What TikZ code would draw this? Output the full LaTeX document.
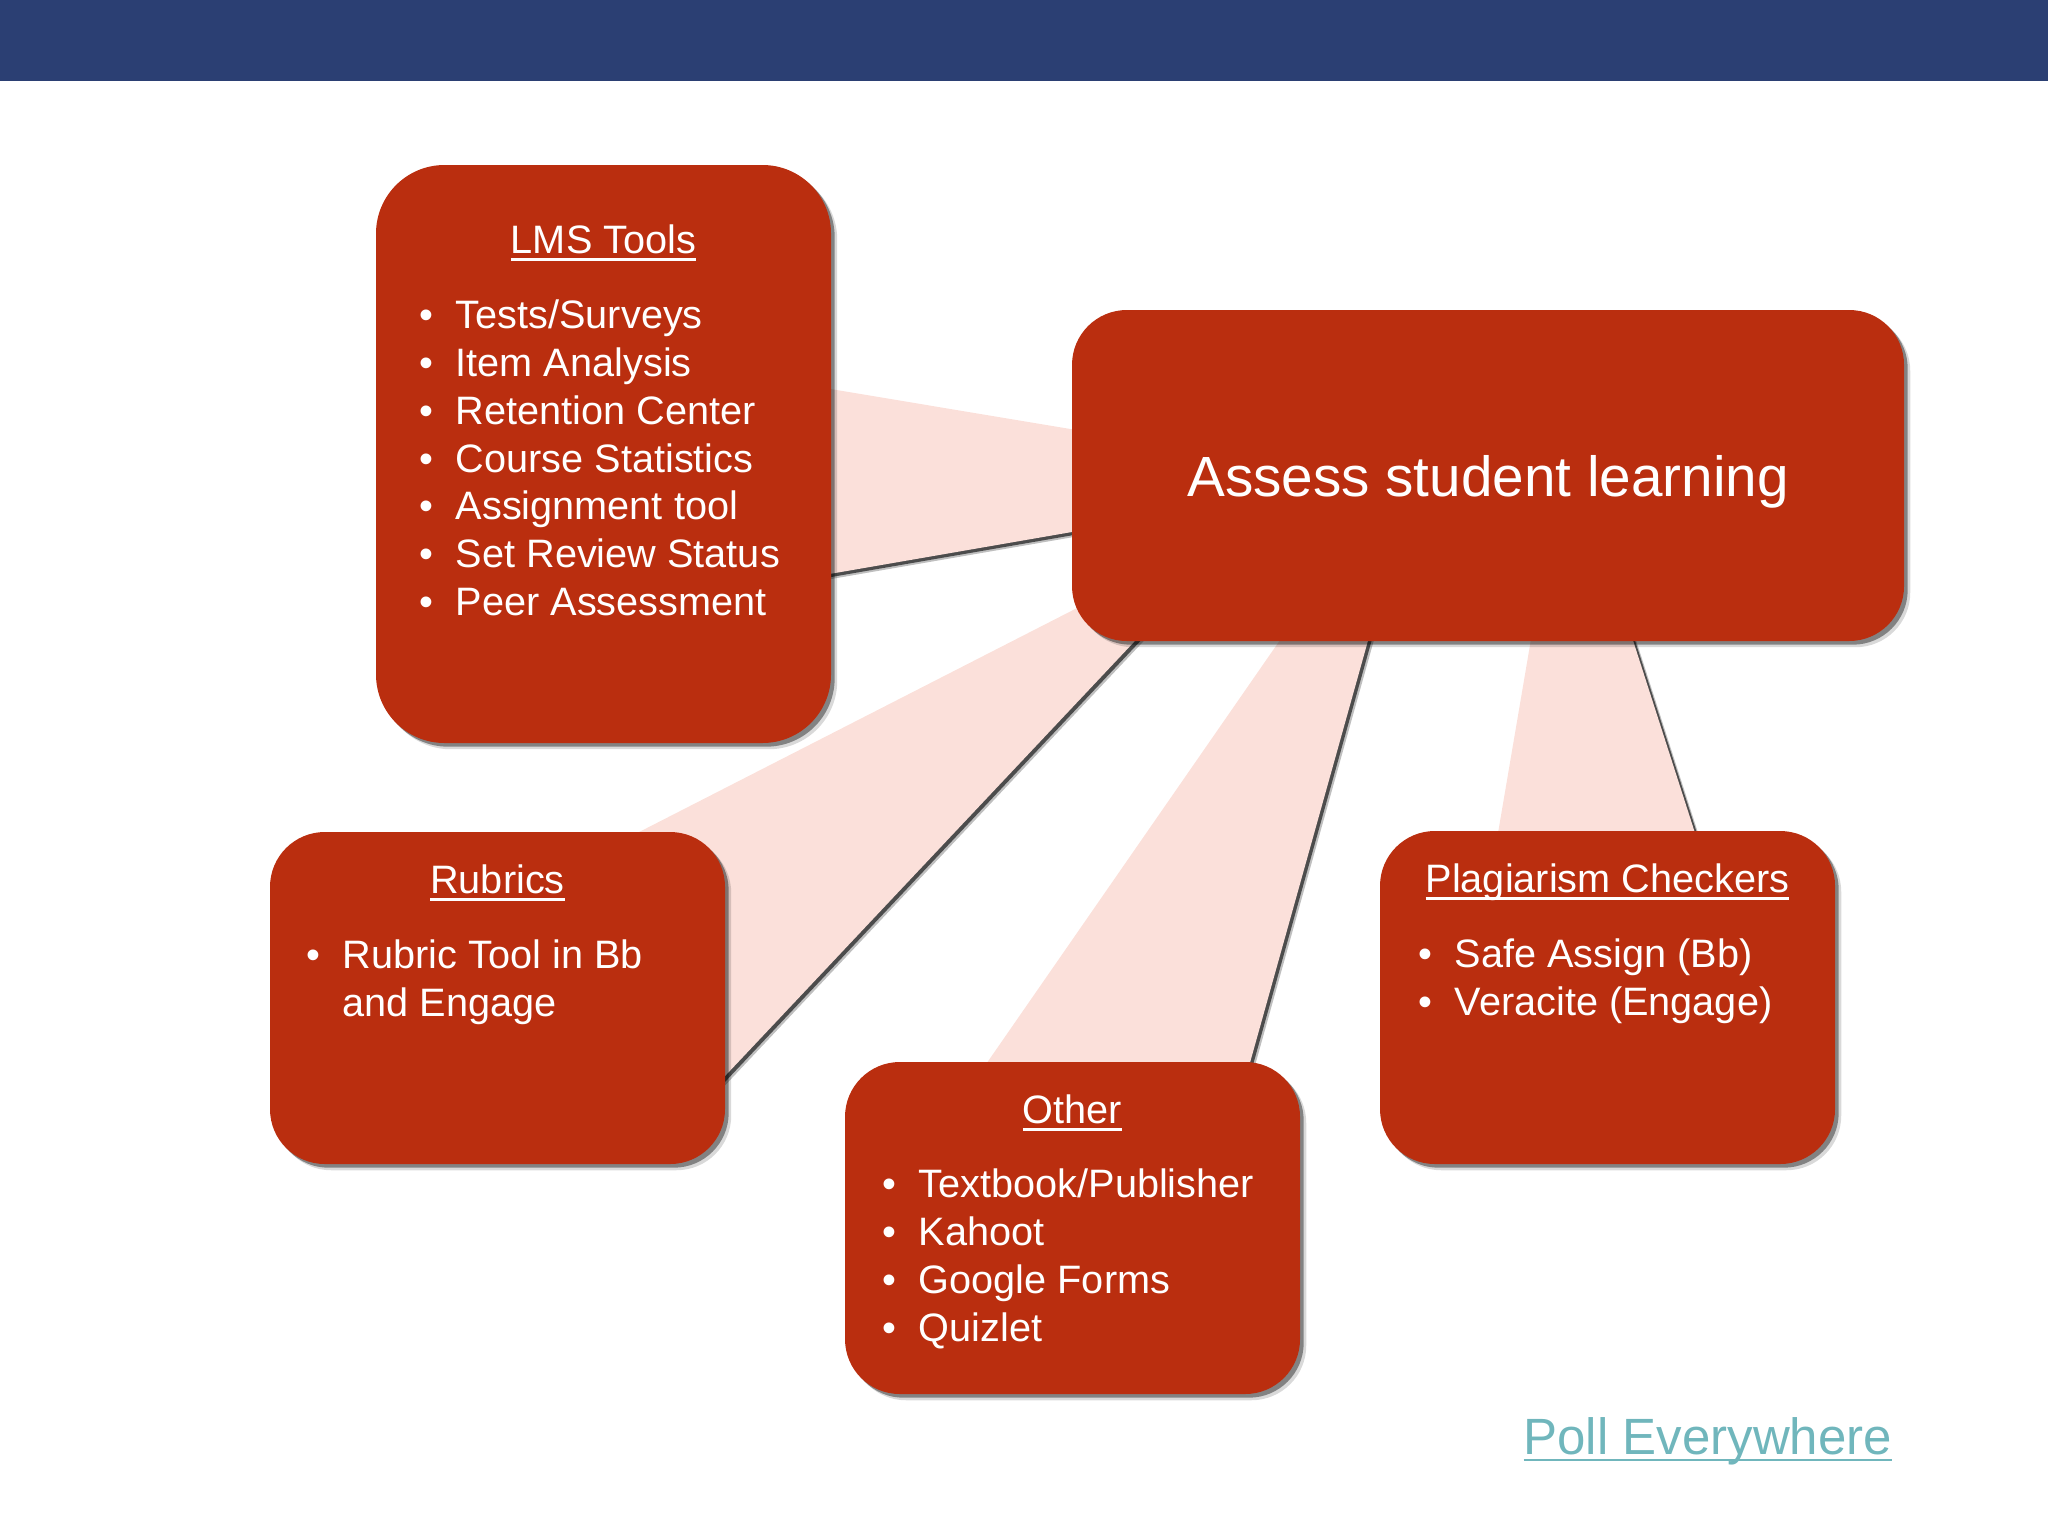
\documentclass[tikz,border=0pt]{standalone}
\usepackage{fontspec}
\setmainfont{Liberation Sans}
\usetikzlibrary{calc,fit,shadows}

\definecolor{slidebar}{RGB}{43,63,115}
\definecolor{cardred}{RGB}{186,46,15}
\definecolor{spokepink}{RGB}{251,224,218}
\definecolor{polllink}{RGB}{112,182,188}

\pgfdeclarelayer{background}
\pgfsetlayers{background,main}

\newcommand\bul{\makebox[13pt][l]{\textbullet}}
\newcommand\ulined[1]{\setbox0\hbox{#1}\rlap{\rule[-2.6pt]{\wd0}{1pt}}\box0}

\tikzset{
  card/.style={fill=cardred, inner sep=0pt, rounded corners=0.68cm,
    drop shadow={shadow xshift=2.2pt, shadow yshift=-2.2pt, fill=black, opacity=.15},
    drop shadow={shadow xshift=1.3pt, shadow yshift=-1.3pt, fill=black, opacity=.4}},
  spoke/.style={fill=spokepink,
    drop shadow={shadow xshift=1.6pt, shadow yshift=-1.6pt, fill=black, opacity=.25},
    drop shadow={shadow xshift=1pt, shadow yshift=-1pt, fill=black, opacity=.6}},
  cardtitle/.style={anchor=base, inner sep=0pt, text=white, font=\fontsize{14}{16.9}\selectfont},
  cardlist/.style={anchor=base west, inner sep=0pt, text=white, font=\fontsize{14}{16.9}\selectfont},
}

\begin{document}
\begin{tikzpicture}[x=0.0124cm, y=-0.0124cm]
\useasboundingbox (0,0) rectangle (2048,1536);
\fill[slidebar] (0,0) rectangle (2048,81);

% boxes
\node[card, fit={(1072,310) (1904,641)}] (assess) {};
\node[card, rounded corners=0.85cm, fit={(376,165) (831,743)}] (lms) {};
\node[card, fit={(270,832) (725,1164)}] (rubrics) {};
\node[card, fit={(845,1062) (1300,1394)}] (other) {};
\node[card, fit={(1380,831) (1835,1164)}] (plag) {};

% spokes behind the boxes
\begin{pgfonlayer}{background}
\fill[spoke] ($(lms.east)+(-31,-70)$) -- ($(assess.west)+(38,-40)$)
  -- ($(assess.west)+(38,50)$) -- ($(lms.east)+(-31,125)$) -- cycle;
\fill[spoke] ($(rubrics.north)+(88,28)$) -- ($(assess.south west)+(28,-45)$)
  -- ($(assess.south west)+(78,-16)$) -- ($(rubrics.east)+(-25,104)$) -- cycle;
\fill[spoke] ($(other.north)+(-104,28)$) -- ($(assess.south)+(-191,-26)$)
  -- ($(assess.south)+(-113,-26)$) -- ($(other.north)+(170,28)$) -- cycle;
\fill[spoke] ($(plag.north)+(-114,29)$) -- ($(assess.south)+(47,-26)$)
  -- ($(assess.south)+(137,-26)$) -- ($(plag.north)+(96,29)$) -- cycle;
\end{pgfonlayer}

% texts
\node[anchor=base, inner sep=0pt, text=white, font=\fontsize{20}{24}\selectfont]
  (assesstext) at ($(assess.north)+(0,187)$) {Assess student learning};

\node[cardtitle] (lmstitle) at ($(lms.north)+(0,89)$) {\ulined{LMS Tools}};
\node[cardlist] (lmslist) at ($(lms.north west)+(43,164)$) {\parbox[t]{150pt}{%
  \bul Tests/Surveys\\ \bul Item Analysis\\ \bul Retention Center\\
  \bul Course Statistics\\ \bul Assignment tool\\ \bul Set Review Status\\
  \bul Peer Assessment}};

\node[cardtitle] (rubricstitle) at ($(rubrics.north)+(0,62)$) {\ulined{Rubrics}};
\node[cardlist] (rubricslist) at ($(rubrics.north west)+(36,137)$) {\parbox[t]{150pt}{%
  \bul Rubric Tool in Bb\\ \hspace*{13pt}and Engage}};

\node[cardtitle] (othertitle) at ($(other.north)+(0,62)$) {\ulined{Other}};
\node[cardlist] (otherlist) at ($(other.north west)+(37,136)$) {\parbox[t]{150pt}{%
  \bul Textbook/Publisher\\ \bul Kahoot\\ \bul Google Forms\\ \bul Quizlet}};

\node[cardtitle] (plagtitle) at ($(plag.north)+(0,62)$) {\ulined{Plagiarism Checkers}};
\node[cardlist] (plaglist) at ($(plag.north west)+(38,137)$) {\parbox[t]{150pt}{%
  \bul Safe Assign (Bb)\\ \bul Veracite (Engage)}};

\node[anchor=base west, inner sep=0pt, text=polllink, font=\fontsize{18}{21.6}\selectfont]
  (poll) at (1523,1454) {\ulined{Poll Everywhere}};
\end{tikzpicture}
\end{document}
